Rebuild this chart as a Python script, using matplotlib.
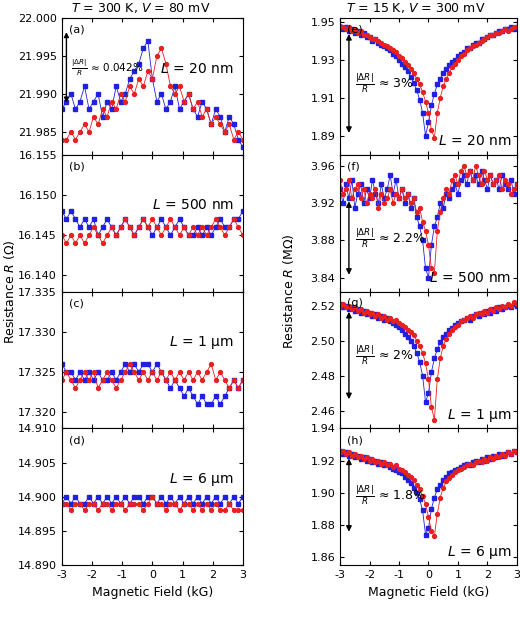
import numpy as np
import matplotlib.pyplot as plt

# field axes (kG)
field_left = np.round(np.arange(-3, 3.001, 0.15), 2)   # 41 points
field_right = np.round(np.arange(-3, 3.001, 0.1), 2)   # 61 points

# ---- left column: T = 300 K, V = 80 mV (Ohm) ----
a_blue = [21.988, 21.989, 21.990, 21.988, 21.989, 21.991, 21.988, 21.989, 21.990, 21.987,
          21.989, 21.988, 21.991, 21.989, 21.990, 21.992, 21.993, 21.994, 21.996, 21.997,
          21.992, 21.989, 21.990, 21.988, 21.989, 21.991, 21.988, 21.989, 21.990, 21.988,
          21.987, 21.989, 21.988, 21.986, 21.988, 21.987, 21.985, 21.987, 21.986, 21.984, 21.983]
a_red = [21.984, 21.984, 21.985, 21.984, 21.985, 21.986, 21.985, 21.987, 21.986, 21.988,
         21.987, 21.989, 21.988, 21.990, 21.989, 21.991, 21.990, 21.992, 21.991, 21.993,
         21.992, 21.995, 21.996, 21.994, 21.991, 21.990, 21.991, 21.989, 21.990, 21.988,
         21.989, 21.987, 21.988, 21.986, 21.987, 21.986, 21.985, 21.986, 21.984, 21.985, 21.984]
b_blue = [16.148, 16.147, 16.148, 16.147, 16.146, 16.147, 16.146, 16.147, 16.145, 16.146,
          16.147, 16.146, 16.145, 16.146, 16.147, 16.146, 16.145, 16.146, 16.147, 16.146,
          16.145, 16.146, 16.147, 16.146, 16.145, 16.146, 16.147, 16.146, 16.145, 16.145,
          16.146, 16.145, 16.146, 16.145, 16.146, 16.147, 16.146, 16.146, 16.147, 16.147, 16.148]
b_red = [16.145, 16.144, 16.145, 16.144, 16.145, 16.144, 16.145, 16.146, 16.145, 16.144,
         16.145, 16.146, 16.145, 16.146, 16.147, 16.146, 16.145, 16.146, 16.147, 16.146,
         16.147, 16.146, 16.145, 16.146, 16.147, 16.146, 16.145, 16.146, 16.145, 16.146,
         16.145, 16.146, 16.145, 16.146, 16.147, 16.146, 16.145, 16.146, 16.147, 16.146, 16.145]
c_blue = [17.326, 17.325, 17.325, 17.324, 17.325, 17.324, 17.325, 17.324, 17.325, 17.324,
          17.324, 17.325, 17.324, 17.325, 17.326, 17.325, 17.326, 17.325, 17.326, 17.326,
          17.325, 17.326, 17.325, 17.324, 17.323, 17.324, 17.323, 17.322, 17.323, 17.322,
          17.321, 17.322, 17.321, 17.321, 17.322, 17.321, 17.322, 17.323, 17.324, 17.323, 17.324]
c_red = [17.324, 17.325, 17.324, 17.323, 17.324, 17.325, 17.324, 17.325, 17.323, 17.324,
         17.325, 17.324, 17.323, 17.324, 17.325, 17.326, 17.325, 17.324, 17.325, 17.324,
         17.325, 17.324, 17.325, 17.324, 17.325, 17.324, 17.325, 17.324, 17.325, 17.324,
         17.325, 17.324, 17.325, 17.326, 17.324, 17.325, 17.324, 17.323, 17.324, 17.323, 17.324]
d_blue = [14.899, 14.900, 14.899, 14.900, 14.899, 14.899, 14.900, 14.899, 14.900, 14.899,
          14.900, 14.899, 14.900, 14.899, 14.900, 14.899, 14.900, 14.900, 14.899, 14.900,
          14.900, 14.899, 14.900, 14.899, 14.900, 14.899, 14.900, 14.899, 14.900, 14.899,
          14.900, 14.899, 14.900, 14.899, 14.900, 14.899, 14.900, 14.899, 14.900, 14.899, 14.900]
d_red = [14.899, 14.899, 14.898, 14.899, 14.899, 14.898, 14.899, 14.899, 14.898, 14.899,
         14.899, 14.898, 14.899, 14.899, 14.898, 14.899, 14.899, 14.899, 14.898, 14.899,
         14.900, 14.899, 14.899, 14.898, 14.899, 14.899, 14.898, 14.899, 14.899, 14.898,
         14.899, 14.898, 14.899, 14.898, 14.899, 14.898, 14.898, 14.899, 14.898, 14.898, 14.898]

# ---- right column: T = 15 K, V = 300 mV (MOhm) ----
e_blue = [1.947, 1.946, 1.947, 1.945, 1.946, 1.944, 1.945, 1.943, 1.944, 1.942, 1.942,
          1.940, 1.941, 1.939, 1.938, 1.937, 1.936, 1.935, 1.933, 1.932, 1.930,
          1.928, 1.926, 1.924, 1.921, 1.918, 1.914, 1.909, 1.902, 1.890, 1.897,
          1.906, 1.912, 1.917, 1.920, 1.923, 1.925, 1.927, 1.929, 1.930, 1.932,
          1.933, 1.934, 1.936, 1.936, 1.938, 1.939, 1.939, 1.941, 1.941, 1.942,
          1.943, 1.943, 1.944, 1.945, 1.945, 1.946, 1.946, 1.947, 1.946, 1.947]
e_red = [1.948, 1.947, 1.946, 1.947, 1.945, 1.946, 1.944, 1.945, 1.943, 1.943, 1.942,
         1.941, 1.941, 1.940, 1.939, 1.938, 1.937, 1.936, 1.935, 1.934, 1.932,
         1.931, 1.929, 1.927, 1.925, 1.923, 1.920, 1.917, 1.913, 1.908, 1.902,
         1.893, 1.889, 1.902, 1.910, 1.916, 1.920, 1.923, 1.926, 1.928, 1.930,
         1.932, 1.933, 1.935, 1.936, 1.937, 1.938, 1.939, 1.940, 1.941, 1.942,
         1.943, 1.943, 1.944, 1.944, 1.945, 1.946, 1.945, 1.946, 1.947, 1.947]
f_blue = [3.935, 3.920, 3.940, 3.925, 3.945, 3.915, 3.930, 3.940, 3.920, 3.935, 3.925,
          3.945, 3.930, 3.920, 3.940, 3.925, 3.935, 3.950, 3.930, 3.945, 3.925,
          3.935, 3.920, 3.930, 3.915, 3.925, 3.905, 3.895, 3.880, 3.850, 3.840,
          3.875, 3.895, 3.905, 3.920, 3.915, 3.930, 3.925, 3.935, 3.940, 3.930,
          3.945, 3.950, 3.940, 3.955, 3.945, 3.950, 3.940, 3.955, 3.945, 3.935,
          3.950, 3.940, 3.945, 3.935, 3.950, 3.940, 3.935, 3.945, 3.930, 3.940]
f_red = [3.945, 3.930, 3.935, 3.945, 3.925, 3.935, 3.940, 3.925, 3.935, 3.920, 3.930,
         3.925, 3.935, 3.915, 3.930, 3.920, 3.925, 3.935, 3.920, 3.930, 3.925,
         3.935, 3.925, 3.930, 3.920, 3.925, 3.910, 3.915, 3.900, 3.890, 3.875,
         3.850, 3.845, 3.890, 3.910, 3.925, 3.935, 3.930, 3.945, 3.950, 3.940,
         3.955, 3.960, 3.950, 3.955, 3.945, 3.960, 3.950, 3.940, 3.955, 3.945,
         3.950, 3.940, 3.945, 3.950, 3.935, 3.945, 3.940, 3.930, 3.935, 3.940]
g_blue = [2.521, 2.519, 2.520, 2.518, 2.519, 2.517, 2.518, 2.516, 2.517, 2.515, 2.516,
          2.514, 2.515, 2.513, 2.514, 2.512, 2.513, 2.511, 2.510, 2.509, 2.508,
          2.506, 2.504, 2.502, 2.500, 2.497, 2.493, 2.488, 2.480, 2.465, 2.470,
          2.482, 2.490, 2.495, 2.499, 2.502, 2.504, 2.506, 2.507, 2.509, 2.510,
          2.511, 2.512, 2.513, 2.512, 2.514, 2.515, 2.514, 2.516, 2.515, 2.517,
          2.516, 2.518, 2.517, 2.519, 2.518, 2.519, 2.520, 2.519, 2.521, 2.520]
g_red = [2.520, 2.521, 2.519, 2.520, 2.518, 2.519, 2.517, 2.518, 2.516, 2.517, 2.515,
         2.516, 2.514, 2.515, 2.513, 2.514, 2.512, 2.513, 2.511, 2.512, 2.510,
         2.509, 2.508, 2.506, 2.505, 2.503, 2.500, 2.497, 2.493, 2.487, 2.478,
         2.462, 2.455, 2.478, 2.490, 2.497, 2.501, 2.504, 2.506, 2.508, 2.509,
         2.511, 2.512, 2.513, 2.514, 2.513, 2.515, 2.516, 2.515, 2.517, 2.516,
         2.518, 2.517, 2.519, 2.518, 2.520, 2.519, 2.521, 2.520, 2.522, 2.521]
h_blue = [1.926, 1.924, 1.925, 1.923, 1.924, 1.922, 1.923, 1.921, 1.922, 1.920, 1.921,
          1.919, 1.920, 1.918, 1.919, 1.917, 1.918, 1.916, 1.915, 1.914, 1.913,
          1.912, 1.910, 1.908, 1.906, 1.903, 1.900, 1.896, 1.889, 1.874, 1.878,
          1.890, 1.897, 1.902, 1.905, 1.908, 1.910, 1.912, 1.913, 1.914, 1.915,
          1.916, 1.917, 1.918, 1.917, 1.919, 1.920, 1.919, 1.921, 1.920, 1.922,
          1.921, 1.923, 1.922, 1.924, 1.923, 1.924, 1.925, 1.924, 1.926, 1.925]
h_red = [1.925, 1.926, 1.924, 1.925, 1.923, 1.924, 1.922, 1.923, 1.921, 1.922, 1.920,
         1.921, 1.919, 1.920, 1.918, 1.919, 1.917, 1.918, 1.916, 1.917, 1.915,
         1.914, 1.913, 1.911, 1.910, 1.908, 1.905, 1.902, 1.898, 1.893, 1.885,
         1.876, 1.873, 1.887, 1.897, 1.903, 1.907, 1.909, 1.911, 1.913, 1.914,
         1.915, 1.916, 1.917, 1.918, 1.917, 1.919, 1.920, 1.919, 1.921, 1.920,
         1.922, 1.921, 1.923, 1.922, 1.924, 1.923, 1.925, 1.924, 1.926, 1.925]

left_panels = [
    ("(a)", "$L$ = 20 nm", a_blue, a_red, (21.982, 22.000), [21.985, 21.990, 21.995, 22.000]),
    ("(b)", "$L$ = 500 nm", b_blue, b_red, (16.138, 16.155), [16.140, 16.145, 16.150, 16.155]),
    ("(c)", "$L$ = 1 μm", c_blue, c_red, (17.318, 17.335), [17.320, 17.325, 17.330, 17.335]),
    ("(d)", "$L$ = 6 μm", d_blue, d_red, (14.890, 14.910), [14.890, 14.895, 14.900, 14.905, 14.910]),
]
right_panels = [
    ("(e)", "$L$ = 20 nm", e_blue, e_red, (1.880, 1.952), [1.89, 1.91, 1.93, 1.95], "≈ 3%"),
    ("(f)", "$L$ = 500 nm", f_blue, f_red, (3.825, 3.972), [3.84, 3.88, 3.92, 3.96], "≈ 2.2%"),
    ("(g)", "$L$ = 1 μm", g_blue, g_red, (2.450, 2.528), [2.46, 2.48, 2.50, 2.52], "≈ 2%"),
    ("(h)", "$L$ = 6 μm", h_blue, h_red, (1.855, 1.940), [1.86, 1.88, 1.90, 1.92, 1.94], "≈ 1.8%"),
]

BLUE = "#2020e0"
RED = "#e82020"
plt.rcParams['font.family'] = ['DejaVu Sans']
plt.rcParams['mathtext.fontset'] = 'dejavusans'

fig = plt.figure(figsize=(5.2, 6.4), dpi=100)
x0l, wl = 0.119, 0.348
x0r, wr = 0.654, 0.340
top, bottom = 0.972, 0.117
h = (top - bottom) / 4


def style(ax, ylim, yticks, fmt, last):
    ax.set_xlim(-3, 3)
    ax.set_ylim(*ylim)
    ax.set_yticks(yticks)
    ax.set_yticklabels([fmt.format(t) for t in yticks], fontsize=8)
    ax.set_xticks([-3, -2, -1, 0, 1, 2, 3])
    ax.tick_params(direction="in", top=True, right=True, length=3)
    if last:
        ax.set_xticklabels(["-3", "-2", "-1", "0", "1", "2", "3"], fontsize=8)
        ax.set_xlabel("Magnetic Field (kG)", fontsize=9)
    else:
        ax.set_xticklabels([])


for i, (lab, ltxt, yb, yr, ylim, yt) in enumerate(left_panels):
    ax = fig.add_axes([x0l, top - (i + 1) * h, wl, h])
    ax.plot(field_left, yb, "-s", color=BLUE, ms=2.8, lw=0.6)
    ax.plot(field_left, yr, "-o", color=RED, ms=2.8, lw=0.6)
    style(ax, ylim, yt, "{:.3f}", i == 3)
    ax.text(0.04, 0.95, lab, transform=ax.transAxes, fontsize=8, va="top")
    ax.text(0.95, 0.60, ltxt, transform=ax.transAxes, fontsize=10, ha="right")
    if i == 0:
        ax.annotate("", xy=(-2.85, 21.9985), xytext=(-2.85, 21.9885),
                    arrowprops=dict(arrowstyle="<|-|>", color="black", lw=1, mutation_scale=7))
        ax.text(-2.7, 21.9935, r"$\frac{|\Delta R|}{R}$ ≈ 0.042%", fontsize=7.5, va="center")

for i, (lab, ltxt, yb, yr, ylim, yt, pct) in enumerate(right_panels):
    ax = fig.add_axes([x0r, top - (i + 1) * h, wr, h])
    ax.plot(field_right, yb, "-s", color=BLUE, ms=2.8, lw=0.6)
    ax.plot(field_right, yr, "-o", color=RED, ms=2.8, lw=0.6)
    style(ax, ylim, yt, "{:.2f}", i == 3)
    ax.text(0.04, 0.95, lab, transform=ax.transAxes, fontsize=8, va="top")
    ax.text(0.97, 0.07, ltxt, transform=ax.transAxes, fontsize=10, ha="right")
    ax.annotate("", xy=(-2.7, yb[3]), xytext=(-2.7, min(yb)),
                arrowprops=dict(arrowstyle="<|-|>", color="black", lw=1, mutation_scale=8))
    ax.text(-2.5, (yb[3] + min(yb)) / 2, r"$\frac{|\Delta R|}{R}$ " + pct, fontsize=9, va="center")

fig.text(0.27, 0.988, "$T$ = 300 K, $V$ = 80 mV", ha="center", va="center", fontsize=9)
fig.text(0.80, 0.988, "$T$ = 15 K, $V$ = 300 mV", ha="center", va="center", fontsize=9)
fig.text(0.018, 0.545, "Resistance $R$ (Ω)", rotation=90, ha="center", va="center", fontsize=9)
fig.text(0.555, 0.545, "Resistance $R$ (MΩ)", rotation=90, ha="center", va="center", fontsize=9)

fig.savefig("out.png", dpi=100)
